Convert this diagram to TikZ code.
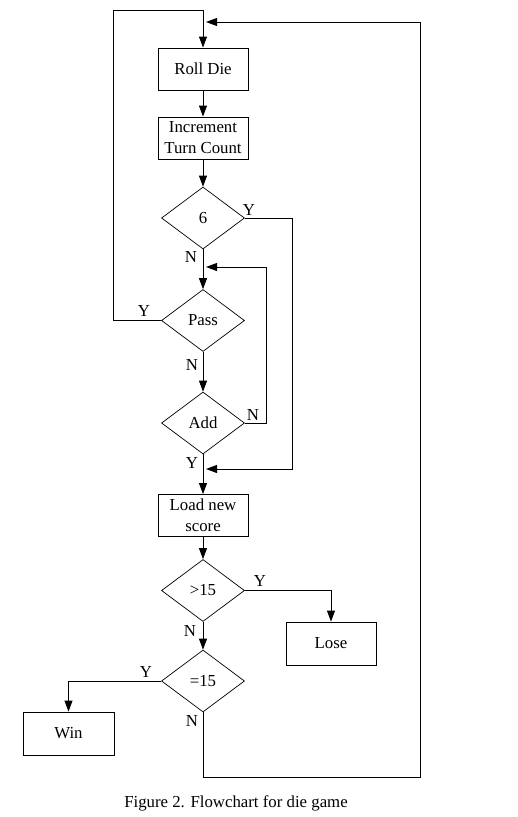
\documentclass[tikz,border=0pt]{standalone}
\usepackage{fontspec}
\setmainfont{Liberation Serif}
\usetikzlibrary{shapes.geometric,arrows.meta}
\begin{document}
\begin{tikzpicture}[x=1pt,y=-1pt,
  font=\fontsize{16.8}{21}\selectfont,
  line width=0.9pt,
  box/.style={draw,rectangle,minimum width=90pt,minimum height=42pt,inner sep=0pt,align=center},
  dec/.style={draw,diamond,minimum width=83pt,minimum height=62pt,inner sep=0pt,line width=0.7pt},
  arr/.style={-{Triangle[length=11pt,width=8pt]}},
  lab/.style={inner sep=0pt}]
\useasboundingbox (0,0) rectangle (518,817);
% nodes
\node[box] (roll) at (203,69) {Roll Die};
\node[box] (inc) at (203,138) {Increment\\Turn Count};
\node[dec] (six) at (203,218) {6};
\node[dec] (pass) at (203,320.5) {Pass};
\node[dec] (add) at (203,423) {Add};
\node[box] (load) at (203,515.5) {Load new\\score};
\node[dec] (gt) at (203,590.5) {\textgreater15};
\node[dec] (eq) at (203,681) {=15};
\node[box,minimum height=43pt] (lose) at (331,643.5) {Lose};
\node[box,minimum width=91pt,minimum height=43pt] (win) at (68.5,733.5) {Win};
% coordinates
\coordinate (tl) at (113,10);
\coordinate (topin) at (206,22);
\coordinate (tr) at (420,22);
\coordinate (br) at (420,777);
\coordinate (addc) at (266,267);
\coordinate (addin) at (206,267);
\coordinate (sixc) at (292,469);
\coordinate (sixin) at (206,469);
% main flow
\draw[arr] (roll) -- (inc);
\draw[arr] (inc) -- (six);
\draw[arr] (six) -- (pass);
\draw[arr] (pass) -- (add);
\draw[arr] (add) -- (load);
\draw[arr] (load) -- (gt);
\draw[arr] (gt) -- (eq);
% loops
\draw[arr] (pass.west) -| (tl) -| (roll.north);
\draw[arr] (eq.south) |- (br) -- (tr) -- (topin);
\draw[arr] (add.east) -| (addc) -- (addin);
\draw[arr] (six.east) -| (sixc) -- (sixin);
\draw[arr] (gt.east) -| (lose.north);
\draw[arr] (eq.west) -| (win.north);
% labels
\node[lab] (l6y) at (249,210) {Y};
\node[lab] (l6n) at (191,257) {N};
\node[lab] (lpy) at (144,311) {Y};
\node[lab] (lpn) at (192,365) {N};
\node[lab] (lan) at (253,415) {N};
\node[lab] (lay) at (192,463) {Y};
\node[lab] (lgy) at (260,581) {Y};
\node[lab] (lgn) at (190,631) {N};
\node[lab] (ley) at (146,672) {Y};
\node[lab] (len) at (192,721) {N};
\node[lab] (cap) at (236,803) {Figure 2. Flowchart for die game};
\end{tikzpicture}
\end{document}
